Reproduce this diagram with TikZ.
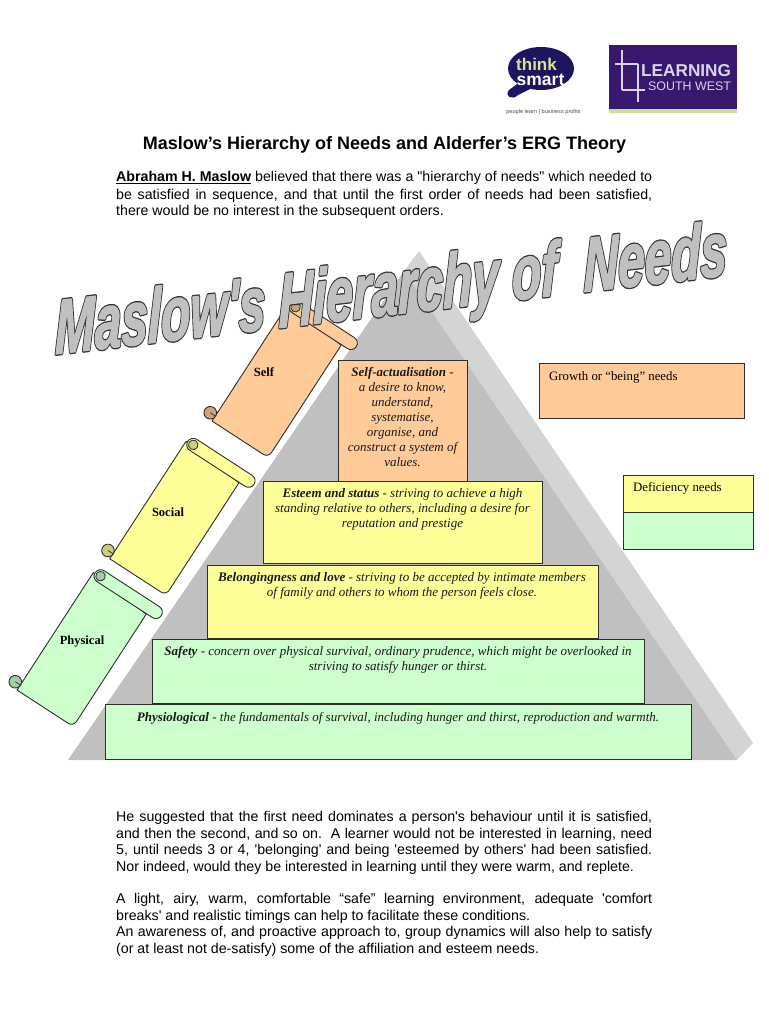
\documentclass[tikz,border=0pt]{standalone}
\usepackage{fontspec}
\setmainfont{Liberation Sans}[Ligatures=TeXOff]
\newfontfamily\tnr{Liberation Serif}
\usetikzlibrary{shapes.geometric}
\definecolor{pdark}{HTML}{C0C0C0}
\definecolor{plight}{HTML}{D4D4D4}
\definecolor{cpeach}{HTML}{FFCC99}
\definecolor{cyel}{HTML}{FFFF99}
\definecolor{cgreen}{HTML}{CCFFCC}
\definecolor{cline}{HTML}{2E2E2E}
\definecolor{navy}{HTML}{1E1560}
\definecolor{thinkg}{HTML}{DCE38C}
\definecolor{purp}{HTML}{37186C}
\definecolor{lbar}{HTML}{C9DE9A}
\definecolor{lav}{HTML}{DAD4E8}
\tikzset{
  lvlbox/.style={draw=cline,line width=1pt},
  boxtext/.style={font=\tnr\fontsize{13}{15}\selectfont\itshape,align=center,inner sep=0pt,anchor=north,text=black!90},
  scrolllabel/.style={font=\tnr\fontsize{12.5}{15}\selectfont\bfseries,inner sep=0pt},
  keytext/.style={font=\tnr\fontsize{12.8}{15}\selectfont,inner sep=0pt,anchor=west},
  bodytext/.style={inner sep=0pt,anchor=north west,font=\fontsize{14.2}{16.5}\selectfont,align=left},
  wordart/.style={inner sep=0pt,anchor=base west,xscale=.62,yslant=.0729,font=\fontsize{77}{80}\selectfont\bfseries\itshape},
}
\newcommand{\jl}[1]{\hbox to 536pt{#1}}
\newcommand{\watext}{Maslow's Hierarchy of\hspace{.278em} Needs}
\newcommand{\scrollshape}[4]{%
\begin{scope}[shift={(#1)},rotate=-33]
 \filldraw[draw=cline,line width=.9pt,fill=#3,line join=round]
   (-8,0) -- (-8,140) -- (53,140) arc[start angle=-90,end angle=0,x radius=6,y radius=-6] -- (59,6) -- cycle;
 \filldraw[draw=cline,line width=.9pt,fill=#4] (-14,134) circle[radius=6.3];
 \draw[cline,line width=.7pt] (-14,134) -- (-8,134);
 \filldraw[draw=cline,line width=.9pt,fill=#3] (0,-7.5) -- (66,-7.5) arc[start angle=90,end angle=-90,x radius=6.5,y radius=-6.5] -- (0,5.5) arc[start angle=270,end angle=90,x radius=6.5,y radius=-6.5] -- cycle;
 \filldraw[draw=cline,line width=.8pt,fill=#4] (0,-1) circle[radius=4.8];
\end{scope}}
\begin{document}
\begin{tikzpicture}[x=1pt,y=-1pt]
\useasboundingbox (0,0) rectangle (768,1024);
\fill[white] (0,0) rectangle (768,1024);
% logos
\fill[navy] (541,68.5) ellipse[x radius=33,y radius=21.5];
\fill[navy] (520,82) -- (532,88) -- (518,95) .. controls (512,101) and (504,96) .. (509,90) -- cycle;
\node[inner sep=0pt,text=thinkg,font=\fontsize{17}{18}\selectfont\bfseries] (think) at (536.5,64.5) {think};
\node[inner sep=0pt,text=white,font=\fontsize{17.5}{18}\selectfont\bfseries] (smart) at (540.5,79.5) {smart};
\node[inner sep=0pt,text=black!70,font=\fontsize{5.6}{6}\selectfont] (tag) at (543.5,112) {people learn | business profits};
\fill[lbar] (609,105) rectangle (737,113);
\fill[purp] (609,45) rectangle (737,109);
\draw[lav,line width=1.7pt] (622,50) -- (622,90) (638,64) -- (638,102) (615,64) -- (638,64) (622,90) -- (645,90);
\node[inner sep=0pt,anchor=west,text=lav,font=\fontsize{17.2}{18}\selectfont\bfseries] (lrn) at (641,71) {LEARNING};
\node[inner sep=0pt,anchor=west,text=lav,font=\fontsize{12.4}{13}\selectfont] (sw) at (648,86.5) {SOUTH WEST};
% heading
\node[inner sep=0pt,font=\fontsize{18}{20}\selectfont\bfseries] (title) at (384.5,145) {Maslow’s Hierarchy of Needs and Alderfer’s ERG Theory};
\node[bodytext] (intro) at (116,171) {\jl{\underline{\textbf{Abraham H. Maslow}} believed that there was a "hierarchy of needs" which needed to}\\[1.5pt]
\jl{be satisfied in sequence, and that until the first order of needs had been satisfied,}\\
there would be no interest in the subsequent orders.};
% pyramid
\fill[plight] (404,271) -- (419,251) -- (753,743) -- (737,760) -- cycle;
\fill[pdark] (68,760) -- (404,271) -- (737,760) -- cycle;
% level boxes
\filldraw[lvlbox,fill=cpeach] (338,360) rectangle (467,481);
\filldraw[lvlbox,fill=cyel] (263,481) rectangle (542,563);
\filldraw[lvlbox,fill=cyel] (207,565) rectangle (598,638);
\filldraw[lvlbox,fill=cgreen] (152,639) rectangle (644,703);
\filldraw[lvlbox,fill=cgreen] (105,704) rectangle (691,759);
\node[boxtext] (t1) at (402.5,367) {\textbf{Self-actualisation} -\\a desire to know,\\understand,\\systematise,\\organise, and\\construct a system of\\values.};
\node[boxtext] (t2) at (402.5,488) {\textbf{Esteem and status} - striving to achieve a high\\standing relative to others, including a desire for\\reputation and prestige};
\node[boxtext] (t3) at (402,572) {\textbf{Belongingness and love} - striving to be accepted by intimate members\\of family and others to whom the person feels close.};
\node[boxtext] (t4) at (398,646) {\textbf{Safety} - concern over physical survival, ordinary prudence, which might be overlooked in\\striving to satisfy hunger or thirst.};
\node[boxtext] (t5) at (398,712) {\textbf{Physiological} - the fundamentals of survival, including hunger and thirst, reproduction and warmth.};
% key
\filldraw[lvlbox,fill=cpeach] (539,363) rectangle (744,418);
\node[keytext] (k1) at (549,377) {Growth or “being” needs};
\filldraw[lvlbox,fill=cyel] (623,475) rectangle (753,512);
\filldraw[lvlbox,fill=cgreen] (623,512) rectangle (753,549);
\node[keytext] (k2) at (633,488) {Deficiency needs};
% scrolls
\scrollshape{295,308}{Self}{cpeach}{cpeach!80!black}
\scrollshape{192.7,445.7}{Social}{cyel}{cyel!80!black}
\scrollshape{100,577}{Physical}{cgreen}{cgreen!80!black}
\node[scrolllabel] (s1) at (264,372) {Self};
\node[scrolllabel] (s2) at (168,512) {Social};
\node[scrolllabel] (s3) at (82,642) {Physical};
% word art: dark outline layer, then grey body on top
\node[wordart] (wa1) at (55,354)
 {\color{cline}\special{pdf:code 1 j 1 J 2 Tr 4.2 w 0.2 0.2 0.2 RG}\watext\special{pdf:code 0 Tr}};
\node[wordart] (wa2) at (55,354)
 {\color{pdark}\special{pdf:code 1 j 1 J 2 Tr 1.6 w 0.753 0.753 0.753 RG}\watext\special{pdf:code 0 Tr}};
% lower text
\node[bodytext] (low1) at (116,811) {\jl{He suggested that the first need dominates a person's behaviour until it is satisfied,}\\
\jl{and then the second, and so on.\ \ A learner would not be interested in learning, need}\\
\jl{5, until needs 3 or 4, 'belonging' and being 'esteemed by others' had been satisfied.}\\
Nor indeed, would they be interested in learning until they were warm, and replete.};
\node[bodytext] (low2) at (116,893) {\jl{A light, airy, warm, comfortable “safe” learning environment, adequate 'comfort}\\
breaks' and realistic timings can help to facilitate these conditions.\\
\jl{An awareness of, and proactive approach to, group dynamics will also help to satisfy}\\
(or at least not de-satisfy) some of the affiliation and esteem needs.};
\end{tikzpicture}
\end{document}
